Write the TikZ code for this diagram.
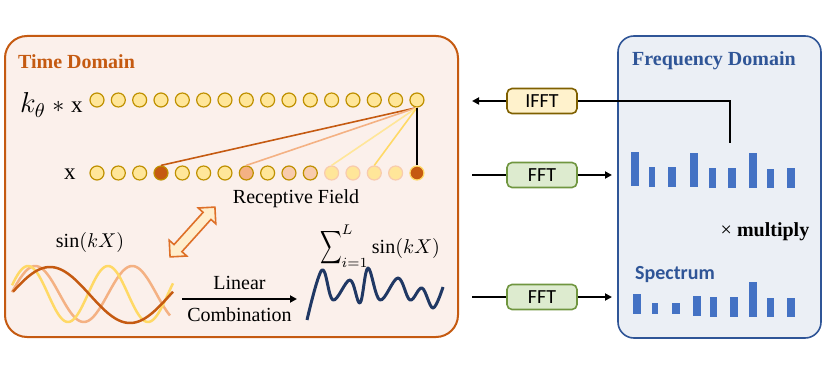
\documentclass[tikz,border=0pt]{standalone}
\usepackage{fontspec}
\setmainfont{Liberation Serif}
\newfontfamily\calfont{Carlito}
\usetikzlibrary{arrows.meta, positioning, shapes.arrows, calc}
\definecolor{tdorange}{RGB}{197,90,17}
\definecolor{tdfill}{RGB}{251,240,235}
\definecolor{fdblue}{RGB}{47,85,151}
\definecolor{fdfill}{RGB}{235,239,245}
\definecolor{barblue}{RGB}{68,114,196}
\definecolor{cellyellow}{RGB}{255,230,153}
\definecolor{cellgold}{RGB}{191,144,0}
\definecolor{cellpeach}{RGB}{244,177,131}
\definecolor{cellblush}{RGB}{248,203,173}
\definecolor{waveyellow}{RGB}{255,217,102}
\definecolor{wavenavy}{RGB}{32,56,100}
\definecolor{ifftfill}{RGB}{255,242,204}
\definecolor{ifftdraw}{RGB}{127,96,0}
\definecolor{fftfill}{RGB}{221,235,207}
\definecolor{fftdraw}{RGB}{112,150,64}
\definecolor{arrowcream}{RGB}{255,238,204}
\definecolor{arroworange}{RGB}{222,112,40}
\tikzset{
  tdbox/.style={rectangle, draw=tdorange, fill=tdfill, line width=1pt,
    rounded corners=11pt, minimum width=226.5pt, minimum height=150.5pt},
  fdbox/.style={rectangle, draw=fdblue, fill=fdfill, line width=0.8pt,
    rounded corners=8pt, minimum width=101.5pt, minimum height=151pt},
  cell/.style={circle, draw=cellgold, fill=cellyellow, minimum size=7pt,
    inner sep=0pt, line width=0.6pt},
  hotcell/.style={cell, fill=tdorange},
  midcell/.style={cell, fill=cellpeach},
  softcell/.style={cell, fill=cellblush},
  palecell/.style={cell, draw=cellblush},
  lastcell/.style={cell, draw=waveyellow, fill=tdorange},
  ifftbox/.style={rectangle, draw=ifftdraw, fill=ifftfill, line width=0.8pt,
    rounded corners=2.5pt, minimum width=35pt, minimum height=12.5pt,
    font=\calfont, inner sep=0pt},
  fftbox/.style={ifftbox, draw=fftdraw, fill=fftfill},
  bar/.style={fill=barblue},
  wave/.style={line width=1.25pt, line join=round},
  dblarrow/.style={double arrow, draw=arroworange, fill=arrowcream,
    line width=0.8pt, minimum height=33.5pt, inner sep=2.25pt,
    double arrow head extend=3.25pt},
  arrow/.style={-{Triangle[length=3.5pt, width=3.5pt]}, line width=0.9pt},
  line/.style={line width=0.9pt},
  rfline/.style={line width=0.8pt}
}

\begin{document}
\begin{tikzpicture}[x=0.5pt, y=-0.5pt, node distance=3pt and 3.5pt]
  \useasboundingbox (0,0) rectangle (831,374);
  % panels
  \node[tdbox] (timebox) at (231.5,186.5) {};
  \node[fdbox] (freqbox) at (719.5,187) {};
  \node[anchor=west, font=\bfseries, text=tdorange] (tdtitle) at (11,62) {Time Domain};
  \node[font=\bfseries, text=fdblue] (fdtitle) at (714,61) {Frequency Domain};
  % output row and input row
  \foreach \i in {1,...,16}
    \node[cell] (t\i) at ({97+21.33*(\i-1)},100) {};
  \foreach \i/\s in {1/cell,2/cell,3/cell,4/hotcell,5/cell,6/cell,7/cell,8/midcell,
      9/cell,10/softcell,11/softcell,12/palecell,13/palecell,14/palecell,15/palecell,16/lastcell}
    \node[\s] (b\i) at ({97+21.33*(\i-1)},173) {};
  \node[anchor=base east, inner sep=0pt, font=\fontsize{11.5}{14}\selectfont] (conv) at (83,113)
    {{\fontsize{14}{16}\selectfont$k_\theta$}$\;*\;$x};
  \node[anchor=base east, inner sep=0pt, font=\fontsize{11.5}{14}\selectfont] (inp) at (76,180) {x};
  \draw[rfline, tdorange] (t16.south) -- (b4.north);
  \draw[rfline, cellpeach] (t16.south) -- (b8.north);
  \draw[rfline, cellyellow] (t16.south) -- (b12.north);
  \draw[rfline, waveyellow] (t16.south) -- (b14.north);
  \draw[line width=1.1pt] (t16.south) -- (b16.north);
  \node[inner sep=1pt] (rflabel) at (296,199) {Receptive Field};
  \node[dblarrow, rotate=48] (rfarrow) at (192.5,232) {};
  % basis waves
  \node (basis) at (90,243) {$\sin(kX)$};
  \draw[wave, cellpeach] plot[domain=12:170, samples=90] (\x,{294-28*sin(3.711*(\x-11))});
  \draw[wave, waveyellow] plot[domain=12:173, samples=90] (\x,{294-28*sin(4.5*(\x-8))});
  \draw[wave, tdorange] plot[domain=13:173, samples=90] (\x,{295-28*sin(2.25*(\x-10))});
  \coordinate (lcin) at (182,299);
  \coordinate (lcout) at (297,299);
  \draw[arrow] (lcin) -- (lcout);
  \node[above=1pt] (lctop) at ($(lcin)!0.5!(lcout)$) {Linear};
  \node[below=1pt] (lcbot) at ($(lcin)!0.5!(lcout)$) {Combination};
  \node[inner sep=1pt] (sumlabel) at (380,246)
    {$\mathop{\scalebox{0.75}[1.15]{$\displaystyle\sum$}}\nolimits_{i=1}^{L}\sin(kX)$};
  \draw[line width=1.5pt, wavenavy, line join=round] plot[smooth, tension=0.6] coordinates
    {(307,320) (322,270) (333,300) (350,280) (360,303) (368,268) (380,300)
     (398,278) (410,300) (422,288) (433,308) (443,287)};
  % transforms
  \node[ifftbox] (ifft) at (542,101) {IFFT};
  \node[fftbox] (fft1) at (542,175) {FFT};
  \node[fftbox] (fft2) at (542,297) {FFT};
  \coordinate (ifftend) at (472,101);
  \coordinate (kernel) at (730,143);
  \coordinate (fftin1) at (472,175);
  \coordinate (fftout1) at (612,175);
  \coordinate (fftin2) at (472,297);
  \coordinate (fftout2) at (612,297);
  \draw[line] (kernel) |- (ifft);
  \draw[arrow] (ifft) -- (ifftend);
  \draw[line] (fftin1) -- (fft1);
  \draw[arrow] (fft1) -- (fftout1);
  \draw[line] (fftin2) -- (fft2);
  \draw[arrow] (fft2) -- (fftout2);
  % spectra
  \foreach \x/\w/\t/\b in {635/8/152/186, 652/6/167/187, 672/8/167/187, 694/8/153/187,
      712/7/168/188, 732/8/168/188, 753/8/153/188, 770/7/169/188, 791/8/168/188}
    \fill[bar] ({\x-\w/2},\t) rectangle ({\x+\w/2},\b);
  \foreach \x/\w/\t/\b in {637/8/294/314, 655/6/303/314, 676/8/303/314, 697/8/296/316,
      713/7/297/317, 734/8/297/317, 753/8/282/317, 770/7/298/317, 791/8/298/317}
    \fill[bar] ({\x-\w/2},\t) rectangle ({\x+\w/2},\b);
  \node (mult) at (765,232) {× \textbf{multiply}};
  \node[font=\calfont\bfseries, text=fdblue] (spec) at (675,275) {Spectrum};
\end{tikzpicture}
\end{document}
